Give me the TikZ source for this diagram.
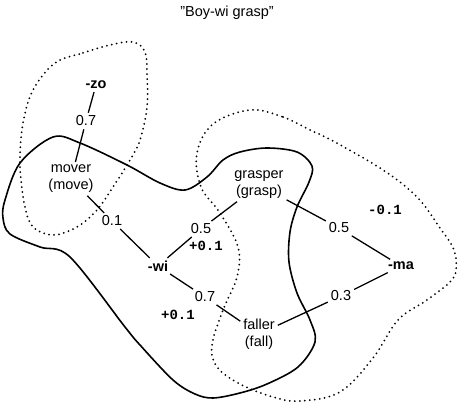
\documentclass[tikz,border=0pt]{standalone}
\usepackage{fontspec}
\setmainfont{Liberation Sans}
\setmonofont{Liberation Mono}
\begin{document}
\begin{tikzpicture}[x=1pt,y=-1pt,
  txt/.style={font=\fontsize{14.5}{17}\selectfont, inner sep=2pt, align=center},
  morph/.style={txt, font=\fontsize{14.5}{17}\selectfont\bfseries},
  adj/.style={txt, font=\fontsize{14}{17}\selectfont\ttfamily\bfseries},
  link/.style={line width=1.3pt, shorten >=1pt, shorten <=1pt},
  region/.style={line width=1.6pt},
  zone/.style={line width=2pt, line cap=round, dash pattern=on 0pt off 5pt}]
\useasboundingbox (0,0) rectangle (474,409);

% regions
\draw[region] plot[smooth cycle, tension=0.55] coordinates {
  (5,200) (20,163) (53,137) (80,143) (127,165) (160,183) (185,190) (207,177)
  (223,160) (240,152) (267,148) (297,152) (312,166) (309,182) (297,207) (290,232)
  (289,262) (297,293) (310,320) (315,342) (298,367) (267,384) (240,393) (213,398)
  (195,394) (173,380) (140,345) (125,327) (70,257) (40,247) (10,234) (3,218)};
\draw[zone] plot[smooth cycle, tension=0.6] coordinates {
  (55,63) (83,53) (110,45) (133,42) (145,52) (147,73) (147,107) (140,140)
  (130,160) (113,187) (97,210) (77,227) (53,235) (33,227) (25,207) (21,180)
  (20,157) (23,123) (33,90)};
\draw[zone] plot[smooth cycle, tension=0.6] coordinates {
  (250,110) (283,117) (310,130) (333,141) (383,170) (417,197) (440,228) (454,250)
  (456,270) (450,282) (427,300) (398,320) (373,358) (340,392) (300,401) (273,397)
  (240,384) (217,367) (212,345) (223,310) (237,277) (238,247) (220,213) (201,187)
  (197,153) (213,124)};

% title
\node[txt] (title) at (227,13) {"Boy-wi grasp"};

% nodes
\node[morph] (zo) at (96,85) {-zo};
\node[txt] (wzo) at (86,121) {0.7};
\node[txt] (mover) at (71,179) {mover\\(move)};
\node[txt] (wmv) at (112,221) {0.1};
\node[morph] (wi) at (158,266) {-wi};
\node[txt] (wgl) at (201,229) {0.5};
\node[adj] (agl) at (206,246) {+0.1};
\node[txt] (grasper) at (259,185) {grasper\\(grasp)};
\node[txt] (wgr) at (339,228) {0.5};
\node[adj] (agr) at (385,210) {-0.1};
\node[morph] (ma) at (401,266) {-ma};
\node[txt] (wfl) at (205,297) {0.7};
\node[adj] (afl) at (178,315) {+0.1};
\node[txt] (faller) at (259,334) {faller\\(fall)};
\node[txt] (wfr) at (341,296) {0.3};

% connectors
\draw[link] (zo) -- (wzo);
\draw[link] (wzo) -- (mover);
\draw[link] (mover) -- (wmv);
\draw[link] (wmv) -- (wi);
\draw[link] (wi) -- (wgl);
\draw[link] (wgl) -- (grasper);
\draw[link] (grasper) -- (wgr);
\draw[link] (wgr) -- (ma);
\draw[link] (wi) -- (wfl);
\draw[link] (wfl) -- (faller);
\draw[link] (faller) -- (wfr);
\draw[link] (wfr) -- (ma);
\end{tikzpicture}
\end{document}
